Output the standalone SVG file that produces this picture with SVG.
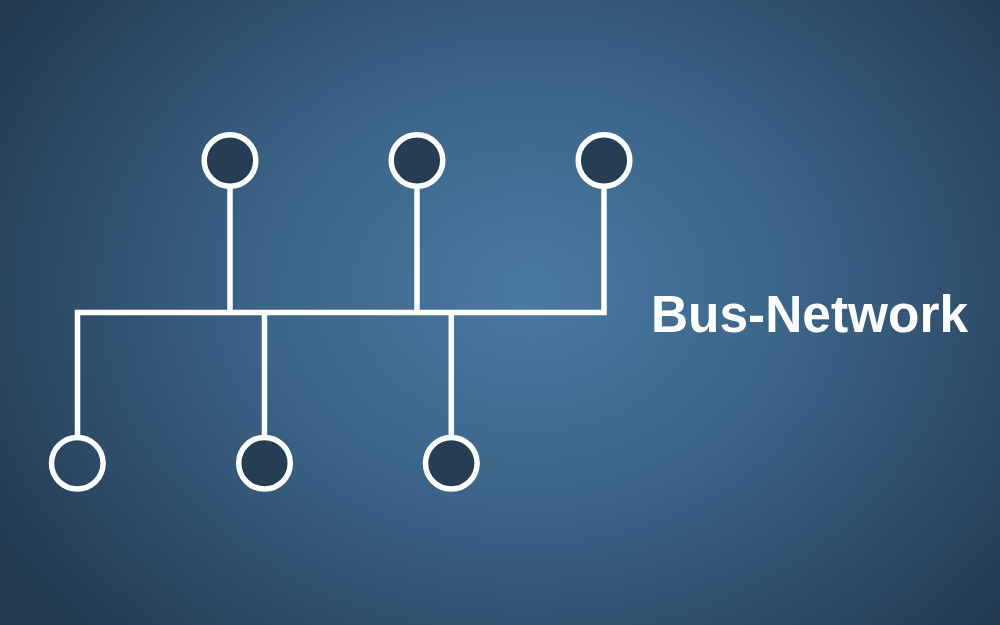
<svg xmlns="http://www.w3.org/2000/svg" width="1000" height="625" viewBox="0 0 1000 625">
  <defs>
    <radialGradient id="bg" cx="530" cy="290" r="620" gradientUnits="userSpaceOnUse" gradientTransform="translate(530 290) scale(1 0.8) translate(-530 -290)">
      <stop offset="0" stop-color="#4b7aa2"/>
      <stop offset="0.45" stop-color="#3a6387"/>
      <stop offset="1" stop-color="#233a52"/>
    </radialGradient>
    <style>
      .wire { fill: none; stroke: #ffffff; stroke-width: 5.5; stroke-linecap: butt; stroke-linejoin: miter; }
      .node { fill: #263d54; stroke: #ffffff; stroke-width: 5.5; }
      .hollow { fill: none; stroke: #ffffff; stroke-width: 5.5; }
      .title { font-family: "Liberation Sans", Arial, sans-serif; font-weight: bold; font-size: 51px; fill: #ffffff; }
    </style>
  </defs>
  <rect width="1000" height="625" fill="url(#bg)"/>
  <g id="connectors">
    <polyline class="wire" points="77.5,437 77.5,312.5 604,312.5 604,188"/>
    <line class="wire" x1="230" y1="188" x2="230" y2="312.5"/>
    <line class="wire" x1="417" y1="188" x2="417" y2="312.5"/>
    <line class="wire" x1="264.5" y1="312.5" x2="264.5" y2="437"/>
    <line class="wire" x1="451.3" y1="312.5" x2="451.3" y2="437"/>
  </g>
  <g id="node-top-1"><circle class="node" cx="230" cy="160.5" r="25.8"/></g>
  <g id="node-top-2"><circle class="node" cx="417" cy="160.5" r="25.8"/></g>
  <g id="node-top-3"><circle class="node" cx="604" cy="160.5" r="25.8"/></g>
  <g id="node-bottom-1"><circle class="hollow" cx="77.3" cy="463.2" r="25.8"/></g>
  <g id="node-bottom-2"><circle class="node" cx="264.5" cy="463.2" r="25.8"/></g>
  <g id="node-bottom-3"><circle class="node" cx="451.3" cy="463.2" r="25.8"/></g>
  <g id="label">
    <text class="title" x="651" y="331.5" textLength="317" lengthAdjust="spacingAndGlyphs">Bus-Network</text>
  </g>
</svg>
